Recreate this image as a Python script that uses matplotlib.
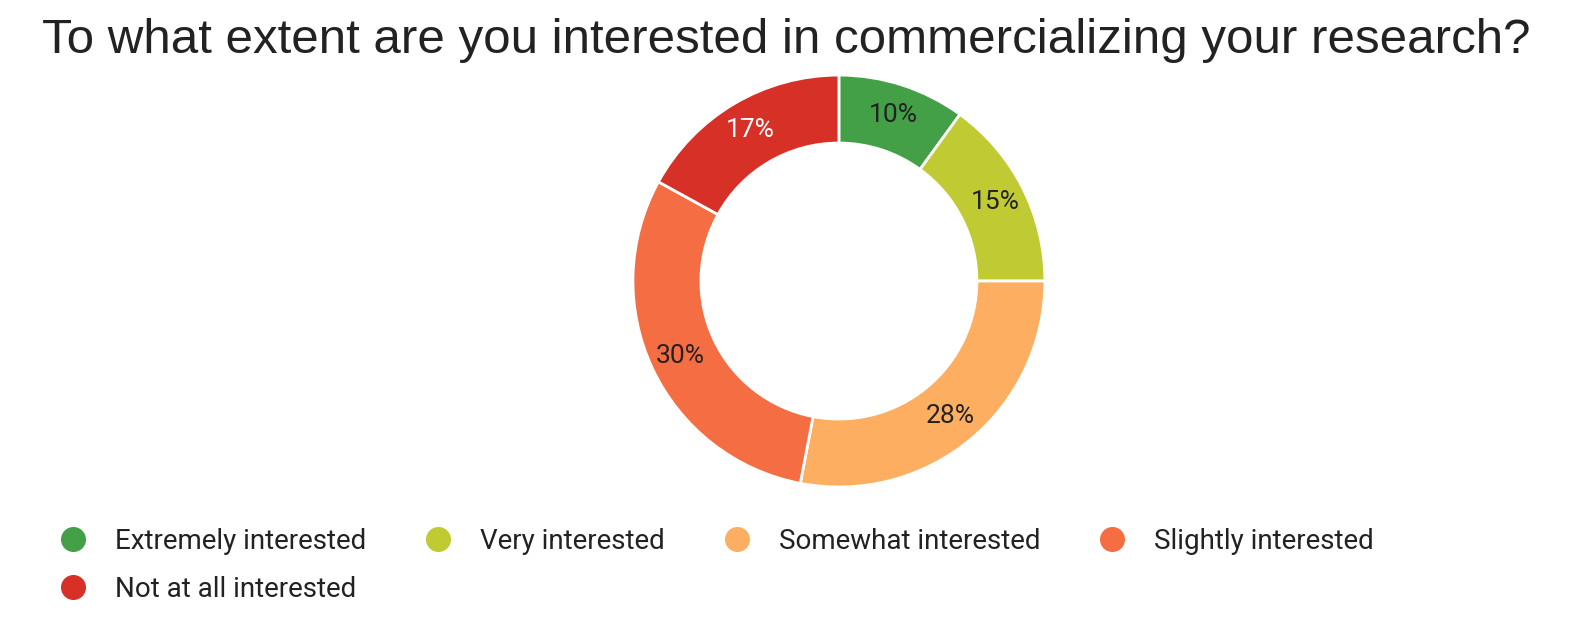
import matplotlib
matplotlib.use("Agg")
import matplotlib.pyplot as plt
from matplotlib.lines import Line2D

categories = ["Extremely interested", "Very interested", "Somewhat interested",
              "Slightly interested", "Not at all interested"]
values = [10, 15, 28, 30, 17]
colors = ["#43a047", "#c0ca33", "#fdae61", "#f46d43", "#d73027"]
label_colors = ["#222222", "#222222", "#222222", "#222222", "#ffffff"]

plt.rcParams['font.family'] = ['Roboto', 'DejaVu Sans']
fig = plt.figure(figsize=(15.8, 6.28), dpi=100)
ax = fig.add_axes([0.4006, 0.2245, 0.2607, 0.656])
wedges, texts, autotexts = ax.pie(
    values, colors=colors, startangle=90, counterclock=False,
    autopct='%d%%', pctdistance=0.85,
    wedgeprops=dict(width=0.33, edgecolor='white', linewidth=2),
    textprops=dict(fontsize=19))
for t, c in zip(autotexts, label_colors):
    t.set_color(c)
ax.set_aspect('equal')
ax.set_xlim(-1, 1); ax.set_ylim(-1, 1)

fig.text(0.4975, 0.935, "To what extent are you interested in commercializing your research?",
         ha='center', va='center', fontsize=35.5, color='#222222',
         family=['Liberation Sans', 'DejaVu Sans'])

handles = [Line2D([], [], marker='o', linestyle='', markersize=17, color=c) for c in colors]
order = [0, 4, 1, 2, 3]
fig.legend([handles[i] for i in order], [categories[i] for i in order],
           loc='lower left', bbox_to_anchor=(0.013, 0.0),
           ncol=4, frameon=False, fontsize=20, handletextpad=0.5,
           columnspacing=1.6, labelspacing=0.75, labelcolor='#222222')
fig.savefig("out.png", dpi=100)
